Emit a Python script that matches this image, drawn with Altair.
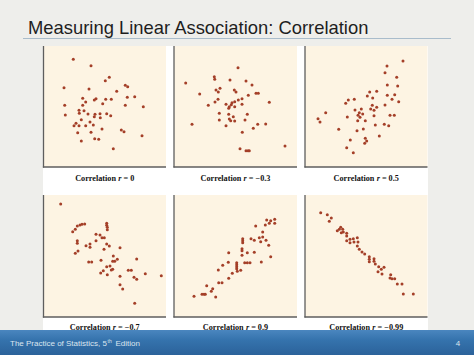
import altair as alt
import pandas as pd

# ---------------- data (per-panel units) ----------------
title_text = "Measuring Linear Association: Correlation"
footer_main = "The Practice of Statistics, 5"
footer_sup = "th"
footer_end = "Edition"
page_number = "4"
r_labels = ["0", "\u22120.3", "0.5", "\u22120.7", "0.9", "\u22120.99"]

p1_x = [29.8, 47.5, 65.8, 61.8, 20.5, 45.5, 81.8, 84.2, 73.2, 39.2,
        50.8, 52.5, 62.2, 67.8, 83.8, 91.2, 42.2, 59.2, 21.2, 39.2,
        81.8, 99.8, 35.5, 40.5, 35.8, 21.8, 44.5, 51.5, 56.5, 63.2,
        67.2, 56.8, 50.8, 37.8, 46.5, 32.5, 30.5, 35.5, 42.2, 49.8,
        58.5, 77.8, 80.5, 34.2, 47.5, 98.5, 51.2, 55.2, 37.8, 69.8]
p1_y = [107.7, 101.3, 89.7, 86.3, 79.3, 78.0, 81.7, 80.3, 75.7, 68.7,
        67.0, 68.3, 67.7, 67.7, 69.7, 70.3, 65.0, 63.3, 61.7, 61.7,
        61.7, 60.3, 56.7, 56.3, 53.7, 52.0, 53.0, 52.7, 53.3, 53.3,
        51.3, 49.3, 50.3, 47.3, 45.0, 43.7, 41.3, 41.3, 41.3, 42.0,
        38.0, 37.0, 35.3, 34.3, 34.7, 31.3, 28.3, 27.7, 26.0, 18.3]

p2_x = [64.0, 40.3, 40.7, 56.0, 72.0, 11.7, 78.0, 42.0, 46.0, 44.3,
        60.3, 62.0, 25.7, 82.0, 84.3, 74.3, 68.0, 44.0, 64.3, 60.7,
        58.0, 57.3, 55.3, 52.0, 60.7, 54.7, 41.0, 34.3, 95.3, 68.0,
        45.3, 54.7, 73.3, 59.3, 55.3, 56.7, 45.3, 60.7, 71.0, 18.0,
        52.0, 83.7, 91.7, 79.3, 68.3, 111.0, 66.0, 72.0, 74.0, 75.3]
p2_y = [99.3, 90.3, 87.7, 87.0, 86.0, 84.0, 82.0, 77.0, 78.7, 75.0,
        77.0, 75.0, 73.0, 73.7, 73.7, 71.7, 68.3, 67.7, 67.0, 65.3,
        64.3, 62.3, 60.3, 62.7, 60.3, 58.7, 65.0, 61.7, 64.7, 62.7,
        53.7, 52.7, 52.7, 50.3, 48.0, 46.3, 47.0, 46.0, 47.0, 42.7,
        41.3, 42.7, 43.0, 38.7, 34.7, 21.0, 18.3, 16.3, 16.3, 16.3]

p3_x = [98.0, 82.0, 80.0, 91.7, 82.3, 92.7, 64.7, 71.7, 62.3, 67.7,
        82.3, 89.7, 87.0, 93.7, 43.3, 49.3, 40.7, 67.3, 71.7, 65.7,
        69.0, 56.3, 50.0, 80.0, 54.3, 57.7, 53.0, 55.0, 20.7, 42.3,
        69.0, 85.0, 89.3, 13.0, 15.0, 52.7, 60.3, 70.3, 79.3, 83.7,
        33.7, 52.0, 58.3, 74.3, 60.3, 61.7, 59.7, 45.3, 41.7, 48.3]
p3_y = [106.0, 101.0, 94.3, 89.7, 82.0, 81.0, 75.0, 75.7, 71.0, 69.0,
        71.7, 72.3, 67.7, 65.3, 67.0, 67.7, 63.7, 61.7, 59.7, 58.0,
        56.7, 58.0, 57.0, 62.0, 54.3, 53.0, 51.7, 49.7, 54.3, 50.0,
        51.3, 51.7, 51.7, 48.3, 45.0, 46.3, 46.3, 42.0, 42.7, 41.3,
        37.7, 36.3, 38.0, 31.0, 28.7, 26.0, 23.7, 27.0, 19.3, 14.3]

p4_x = [17.2, 29.2, 31.8, 33.8, 36.5, 38.5, 41.2, 63.2, 63.2, 63.8,
        63.8, 52.5, 56.5, 58.5, 60.8, 33.8, 33.8, 52.5, 42.5, 46.5,
        46.5, 63.2, 65.8, 60.5, 76.5, 34.5, 31.8, 69.8, 73.8, 71.2,
        69.2, 93.2, 45.2, 48.2, 57.5, 66.5, 63.2, 69.2, 67.8, 59.8,
        57.2, 63.8, 84.8, 87.8, 101.8, 117.8, 76.5, 90.5, 93.2, 76.5,
        79.2, 91.2]
p4_y = [113.0, 85.3, 87.7, 91.0, 92.0, 92.7, 93.0, 93.7, 91.7, 89.7,
        87.3, 82.7, 82.0, 79.3, 79.3, 76.3, 73.7, 76.3, 71.3, 73.0,
        69.7, 73.0, 71.0, 67.7, 69.3, 66.0, 63.7, 61.0, 57.7, 55.7,
        55.7, 58.0, 55.0, 55.0, 56.7, 51.0, 50.3, 47.7, 47.0, 46.3,
        44.0, 42.3, 46.7, 46.7, 43.3, 41.3, 40.7, 39.7, 37.7, 32.3,
        28.0, 13.7]

p5_x = [92.7, 96.7, 100.7, 91.3, 95.3, 100.7, 81.7, 88.7, 68.7, 68.7,
        68.7, 77.0, 80.3, 85.3, 88.7, 86.7, 92.0, 94.7, 68.0, 68.0,
        68.0, 73.3, 54.7, 80.3, 96.7, 54.3, 48.7, 44.3, 62.7, 62.7,
        62.7, 62.7, 70.7, 73.3, 76.0, 87.3, 66.7, 63.3, 58.3, 54.7,
        44.7, 48.0, 32.7, 38.7, 37.3, 28.0, 30.0, 31.3, 20.0, 41.7]
p5_y = [97.0, 96.3, 97.7, 92.0, 93.7, 93.7, 91.0, 85.0, 78.3, 76.3,
        74.3, 78.3, 76.7, 79.3, 80.0, 75.3, 76.7, 71.7, 68.3, 66.3,
        61.7, 64.3, 64.3, 64.7, 60.3, 54.7, 51.7, 47.0, 54.3, 52.3,
        50.3, 48.3, 54.3, 54.3, 54.3, 55.0, 46.7, 45.7, 43.7, 38.7,
        34.3, 34.3, 31.3, 28.3, 25.7, 22.7, 22.7, 22.7, 20.7, 20.0]

p6_x = [15.7, 22.3, 26.3, 24.3, 32.3, 34.3, 35.7, 37.7, 38.3, 41.7,
        41.7, 36.3, 48.3, 52.3, 45.0, 41.7, 45.0, 49.0, 53.0, 52.3,
        54.3, 57.0, 59.7, 64.3, 64.3, 64.3, 69.0, 69.0, 70.3, 73.7,
        76.3, 79.0, 73.0, 77.0, 85.7, 85.0, 87.0, 89.7, 92.3, 97.0,
        98.3, 108.3]
p6_y = [104.3, 102.3, 99.0, 95.7, 86.3, 87.7, 89.7, 87.7, 85.0, 83.7,
        81.0, 84.3, 78.3, 79.3, 77.7, 76.3, 74.3, 75.0, 75.0, 71.0,
        67.7, 65.0, 63.0, 60.3, 57.7, 55.3, 58.3, 55.7, 53.0, 50.3,
        47.7, 49.7, 45.3, 43.0, 42.3, 39.0, 38.3, 38.3, 33.0, 33.0,
        23.0, 23.0]

series = [(p1_x, p1_y), (p2_x, p2_y), (p3_x, p3_y),
          (p4_x, p4_y), (p5_x, p5_y), (p6_x, p6_y)]

# ---------------- layout / style ----------------
SLIDE_BG = "#eeeeeb"
CREAM = "#fdf4e3"
DOT = "#a43f28"
BORDER = "#5e5e5e"
# panel boxes: left, top, right, bottom (pixels)
boxes = [(43.5, 46, 166, 167), (174, 46, 297, 167), (305, 46, 427.5, 167),
         (43.5, 195, 166, 317), (174, 195, 297, 317), (305, 195, 427.5, 317)]
cap_base = [181, 181, 181, 329.5, 329.5, 329.5]

one = pd.DataFrame({"k": [0]})
layers = []

# slide frame
layers.append(alt.Chart(one).mark_rule(color="#a9bccb", strokeWidth=1).encode(
    x=alt.value(23), x2=alt.value(451), y=alt.value(38.5)))
layers.append(alt.Chart(one).mark_text(
    text=title_text, align="left", baseline="alphabetic", font="Liberation Sans",
    fontSize=18.4, color="#1e1e1e").encode(x=alt.value(28), y=alt.value(34)))
layers.append(alt.Chart(one).mark_rect(fill="#ffffff").encode(
    x=alt.value(43), x2=alt.value(428), y=alt.value(46), y2=alt.value(330)))

footer_grad = alt.LinearGradient(
    gradient="linear", x1=0, y1=0, x2=0, y2=1,
    stops=[alt.GradientStop(color="#4a86bf", offset=0),
           alt.GradientStop(color="#3573ad", offset=0.4),
           alt.GradientStop(color="#2b629a", offset=1)])
layers.append(alt.Chart(one).mark_rect(fill=footer_grad).encode(
    x=alt.value(0), x2=alt.value(474), y=alt.value(330), y2=alt.value(355)))
FOOT_COL = "#dbe5ef"
layers.append(alt.Chart(one).mark_text(
    text=footer_main, align="left", baseline="alphabetic", font="Liberation Sans",
    fontSize=8, color=FOOT_COL).encode(x=alt.value(10), y=alt.value(346)))
layers.append(alt.Chart(one).mark_text(
    text=footer_sup, align="left", baseline="alphabetic", font="Liberation Sans",
    fontSize=5, color=FOOT_COL).encode(x=alt.value(107.5), y=alt.value(343)))
layers.append(alt.Chart(one).mark_text(
    text=footer_end, align="left", baseline="alphabetic", font="Liberation Sans",
    fontSize=8, color=FOOT_COL).encode(x=alt.value(115.5), y=alt.value(346)))
layers.append(alt.Chart(one).mark_text(
    text=page_number, align="center", baseline="alphabetic", font="Liberation Sans",
    fontSize=8, color=FOOT_COL).encode(x=alt.value(458), y=alt.value(346)))

# Times-bold advance widths (em) for caption layout
TW = {"=": 0.57, "\u2212": 0.57, ".": 0.25, " ": 0.25}
FS = 8.2

for i, ((L, T, R, B), (xs, ys)) in enumerate(zip(boxes, series)):
    layers.append(alt.Chart(one).mark_rect(fill=CREAM).encode(
        x=alt.value(L), x2=alt.value(R), y=alt.value(T), y2=alt.value(B)))
    layers.append(alt.Chart(one).mark_rule(color=BORDER, strokeWidth=1.3).encode(
        x=alt.value(L), y=alt.value(T), y2=alt.value(B + 0.6)))
    layers.append(alt.Chart(one).mark_rule(color=BORDER, strokeWidth=1.3).encode(
        x=alt.value(L - 0.6), x2=alt.value(R), y=alt.value(B)))
    df = pd.DataFrame({"x": xs, "y": ys})
    layers.append(alt.Chart(df).mark_circle(size=9, color=DOT, opacity=1).encode(
        x=alt.X("x:Q", axis=None,
                scale=alt.Scale(domain=[0, R - L], range=[L, R], nice=False, zero=False)),
        y=alt.Y("y:Q", axis=None,
                scale=alt.Scale(domain=[0, B - T], range=[B, T], nice=False, zero=False))))
    # caption  "Correlation r = value"
    val = "= " + r_labels[i]
    w_val = sum(TW.get(c, 0.5) for c in val) * FS
    w_corr = 5.0 * FS
    w_r = 0.389 * FS
    gap = 0.25 * FS
    total = w_corr + gap + w_r + gap + w_val
    cx = (L + R) / 2
    x0 = cx - total / 2
    yb = cap_base[i]
    common = dict(baseline="alphabetic", font="Liberation Serif", fontSize=FS,
                  fontWeight="bold", color="#111111", align="left")
    layers.append(alt.Chart(one).mark_text(text="Correlation", **common).encode(
        x=alt.value(x0), y=alt.value(yb)))
    layers.append(alt.Chart(one).mark_text(text="r", fontStyle="italic", **common).encode(
        x=alt.value(x0 + w_corr + gap), y=alt.value(yb)))
    layers.append(alt.Chart(one).mark_text(text=val, **common).encode(
        x=alt.value(x0 + w_corr + gap + w_r + gap), y=alt.value(yb)))

chart = alt.layer(*layers).resolve_scale(x="independent", y="independent").properties(
    width=474, height=355, padding=0, background=SLIDE_BG,
    autosize=alt.AutoSizeParams(type="none"),
).configure_view(strokeWidth=0)

chart.save("out.html", embed_options={"renderer": "svg", "actions": False})
